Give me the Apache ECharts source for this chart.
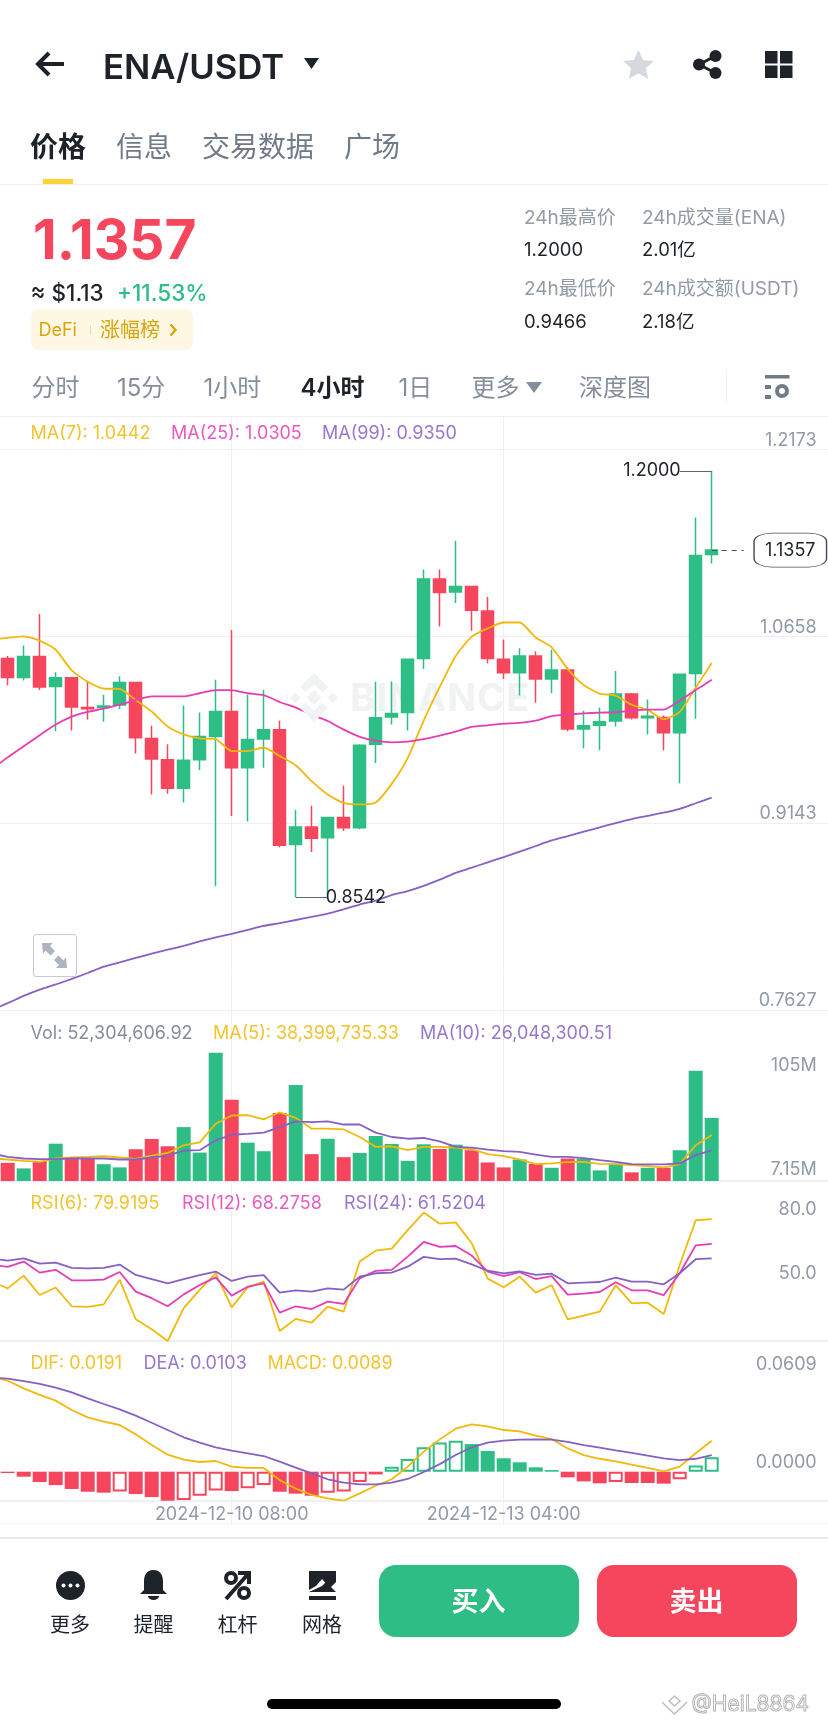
<!DOCTYPE html>
<html>
<head>
<meta charset="utf-8">
<style>
  html, body { margin: 0; background: #fff; }
  #page { position: relative; width: 828px; height: 1725px; overflow: hidden; font-family: Inter, "Noto Sans CJK SC", sans-serif; }
  #chart { position: absolute; left: 0; top: 0; width: 828px; height: 1725px; z-index: 1; }
  .t { position: absolute; white-space: nowrap; line-height: 1; z-index: 2; }
  .box { position: absolute; z-index: 0; }
  svg { position: absolute; z-index: 2; overflow: visible; }
</style>
<script src="https://cdn.jsdelivr.net/npm/echarts@6/dist/echarts.min.js"></script>
</head>
<body>
<div id="page"><div id="chart"></div></div>
<script>
// first entry sits just off the left edge, it only makes the lines run into the screen
const categories = [
  "12-07 20:00",
  "12-08 00:00", "12-08 04:00", "12-08 08:00", "12-08 12:00", "12-08 16:00", "12-08 20:00",
  "12-09 00:00", "12-09 04:00", "12-09 08:00", "12-09 12:00", "12-09 16:00", "12-09 20:00",
  "12-10 00:00", "12-10 04:00", "12-10 08:00", "12-10 12:00", "12-10 16:00", "12-10 20:00",
  "12-11 00:00", "12-11 04:00", "12-11 08:00", "12-11 12:00", "12-11 16:00", "12-11 20:00",
  "12-12 00:00", "12-12 04:00", "12-12 08:00", "12-12 12:00", "12-12 16:00", "12-12 20:00",
  "12-13 00:00", "12-13 04:00", "12-13 08:00", "12-13 12:00", "12-13 16:00", "12-13 20:00",
  "12-14 00:00", "12-14 04:00", "12-14 08:00", "12-14 12:00", "12-14 16:00", "12-14 20:00",
  "12-15 00:00", "12-15 04:00", "12-15 08:00",
];
// open, close, low, high
const candles = [
  [1.06, 1.048, 1.04, 1.07],
  [1.0478, 1.0324, 1.026, 1.0498], [1.0324, 1.0494, 1.0299, 1.0584], [1.0494, 1.0247, 1.0222, 1.0838],
  [1.025, 1.0321, 0.9888, 1.0366], [1.0321, 1.0084, 0.9894, 1.0321], [1.008, 1.0071, 0.9984, 1.0289],
  [1.008, 1.0093, 0.9965, 1.0183], [1.01, 1.0283, 1.0068, 1.0334], [1.0283, 0.9836, 0.9708, 1.0283],
  [0.983, 0.9663, 0.9374, 0.9933], [0.9657, 0.9426, 0.9381, 0.9782], [0.9426, 0.9653, 0.931, 1.0096],
  [0.9657, 0.9846, 0.9573, 1.0039], [0.9846, 1.0048, 0.863, 1.0305], [1.0048, 0.9592, 0.9201, 1.0709],
  [0.9592, 0.982, 0.9156, 1.0183], [0.9824, 0.9901, 0.9592, 1.0225], [0.9901, 0.8963, 0.8947, 0.9974],
  [0.897, 0.9111, 0.8542, 0.9252], [0.9111, 0.9021, 0.8909, 0.9284], [0.9024, 0.9188, 0.856, 0.9195],
  [0.9188, 0.9105, 0.9079, 0.9445], [0.9105, 0.9775, 0.9092, 0.9782], [0.9782, 0.9997, 0.9631, 1.0289],
  [1.0003, 1.0032, 0.9942, 1.0292], [1.0039, 1.0472, 0.9894, 1.0475], [1.0478, 1.1123, 1.0392, 1.12],
  [1.1123, 1.1014, 1.0738, 1.12], [1.1017, 1.1062, 1.0928, 1.1432], [1.1062, 1.087, 1.0703, 1.1066],
  [1.0864, 1.0478, 1.044, 1.0976], [1.0472, 1.0363, 1.0311, 1.0632], [1.0363, 1.0498, 1.0177, 1.0562],
  [1.0498, 1.0311, 1.0119, 1.0536], [1.0311, 1.0385, 1.0196, 1.0549], [1.0385, 0.9907, 0.9888, 1.0407],
  [0.9907, 0.9933, 0.975, 1.0055], [0.9936, 0.9965, 0.9734, 1.008], [0.9971, 1.0189, 0.9926, 1.0376],
  [1.0189, 0.9997, 0.9984, 1.0199], [0.9998, 1.001, 0.9862, 1.0145], [1.0, 0.9875, 0.9734, 1.0016],
  [0.9875, 1.035, 0.9467, 1.0356], [1.0356, 1.1313, 0.999, 1.1621], [1.1322, 1.1357, 1.1249, 1.2],
];
const ma7 = [1.0632, 1.0645, 1.0658, 1.0623, 1.0549, 1.0382, 1.0289, 1.0234, 1.0231, 1.0141, 1.0048, 0.9926, 0.9862, 0.983, 0.9824, 0.9727, 0.9727, 0.9756, 0.9686, 0.9612, 0.9483, 0.9374, 0.9307, 0.9294, 0.931, 0.9461, 0.967, 0.9974, 1.0247, 1.0498, 1.0655, 1.0722, 1.077, 1.077, 1.0648, 1.0568, 1.0392, 1.0263, 1.0193, 1.0177, 1.0103, 1.0061, 0.9984, 1.0045, 1.0241, 1.0442];
const ma25 = [0.958, 0.9676, 0.9766, 0.9856, 0.9942, 1.0007, 1.0045, 1.0071, 1.0103, 1.0141, 1.017, 1.017, 1.017, 1.0196, 1.0222, 1.0222, 1.0196, 1.018, 1.0125, 1.008, 1.0023, 0.9971, 0.9901, 0.9843, 0.9811, 0.9798, 0.9804, 0.9824, 0.9853, 0.9885, 0.9923, 0.9936, 0.9949, 0.9955, 0.9974, 1.001, 1.0023, 1.0032, 1.0039, 1.0042, 1.0055, 1.0064, 1.0064, 1.0135, 1.0222, 1.0305];
const ma99 = [0.7628, 0.7683, 0.7741, 0.7792, 0.7834, 0.7879, 0.7927, 0.7978, 0.8013, 0.8049, 0.8084, 0.8116, 0.8148, 0.8184, 0.8216, 0.8245, 0.8277, 0.8309, 0.8331, 0.8357, 0.8382, 0.8408, 0.8444, 0.8482, 0.8514, 0.8559, 0.8591, 0.8633, 0.8684, 0.8739, 0.8781, 0.8825, 0.8867, 0.8912, 0.8957, 0.9002, 0.9037, 0.9073, 0.9108, 0.9143, 0.9175, 0.9201, 0.9227, 0.9259, 0.9304, 0.935];
// volume in millions
const volumes = [20, 15.9, 11.4, 17.5, 31.4, 19.4, 19.4, 14.8, 12.2, 26.9, 35.2, 29.3, 44.8, 24.2, 105, 67, 32.2, 25.3, 56.3, 78.8, 22.9, 35.4, 20.5, 23.9, 37.6, 31.2, 17.5, 30.9, 27.1, 30.6, 26.1, 16.2, 12.2, 18.6, 15.1, 11.9, 19.4, 19.4, 9.8, 15.4, 8.2, 11.9, 11.9, 26.1, 90.3, 52.3];
const volMa5 = [19.4, 18.6, 17.5, 16.7, 19.4, 20.2, 20.7, 21.3, 20.2, 19.1, 21.8, 24, 30.1, 32.5, 47.5, 54.2, 54.4, 51, 56.8, 52.3, 43.5, 43.5, 42.9, 36.8, 28.8, 29.3, 26.1, 28.8, 28.8, 28.2, 26.9, 22.9, 21.3, 18.6, 14.8, 15.4, 16.4, 16.7, 15.1, 14.8, 14, 13.2, 12.2, 14.8, 30.1, 38.4];
const volMa10 = [23.4, 20.7, 19.4, 18.9, 18.9, 19.4, 19.4, 19.4, 18.6, 18.6, 20.2, 21.8, 25.8, 26.1, 34.1, 38.6, 39.4, 40.3, 44.8, 49.4, 48.8, 49.4, 46.9, 46.9, 40.3, 36.8, 35.4, 36, 33.3, 28.8, 28.2, 26.6, 25.3, 24.7, 22.6, 20.7, 20.7, 19.7, 18.1, 16.7, 14.8, 14.6, 14.6, 15.4, 22.1, 26.05];
const rsi6 = [50.6, 47.4, 53.4, 44.3, 47.8, 39, 38.7, 39.9, 51.4, 32.9, 28.2, 22.7, 38.1, 46.7, 54.5, 38.5, 47.9, 50.6, 27.4, 33.1, 31.3, 38.8, 36.5, 60, 65.1, 66.1, 74.8, 83, 77.8, 78.4, 68.6, 52, 47.9, 52.9, 45.4, 48.9, 32.9, 34.6, 36.5, 48.9, 40.4, 40.7, 35.4, 58.4, 79.4, 79.92];
const rsi12 = [58.4, 57.5, 60, 54.8, 56.1, 51.2, 51.2, 51.5, 55.1, 45.9, 42.8, 39, 44.6, 49, 52.6, 44, 48.2, 49.8, 36, 39, 37.7, 41.2, 40.1, 52.1, 55.6, 56.1, 62.3, 69.2, 66.9, 67.3, 62.8, 55.3, 53.2, 55, 51.8, 53.2, 44.5, 44.9, 45.7, 50.3, 46.5, 46.5, 44.2, 54.5, 67.6, 68.28];
const rsi24 = [61.5, 60.4, 61.5, 59, 59.5, 57, 56.8, 57, 58.6, 53.7, 51.8, 49.8, 51.8, 53.6, 55.3, 50.9, 52.9, 53.6, 45.4, 46.5, 45.9, 47.4, 46.8, 52.9, 54.5, 54.8, 57.6, 62.2, 61.1, 61.4, 58.7, 55.7, 54.5, 55.4, 53.7, 54.3, 49.8, 50.1, 50.4, 52.5, 50.6, 50.6, 49.3, 54.5, 61.1, 61.52];
const dif = [0.0588, 0.0563, 0.0516, 0.0475, 0.044, 0.0382, 0.0336, 0.031, 0.0289, 0.0231, 0.0165, 0.0105, 0.0074, 0.006, 0.0066, 0.0031, 0.0023, 0.0023, -0.0052, -0.0105, -0.0144, -0.0165, -0.018, -0.0134, -0.0087, -0.0047, 0.0031, 0.0124, 0.02, 0.0266, 0.0293, 0.0281, 0.0258, 0.025, 0.0223, 0.0202, 0.0144, 0.0103, 0.008, 0.0064, 0.0043, 0.0023, 0.0002, 0.0031, 0.0114, 0.0191];
const dea = [0.0582, 0.0576, 0.0561, 0.0543, 0.052, 0.0491, 0.0454, 0.0419, 0.0386, 0.0347, 0.0303, 0.0258, 0.0213, 0.018, 0.0151, 0.013, 0.0114, 0.0097, 0.0062, 0.0025, -0.001, -0.0047, -0.0068, -0.0078, -0.0078, -0.0068, -0.0045, -0.0002, 0.0047, 0.0103, 0.0151, 0.018, 0.0192, 0.0198, 0.02, 0.0198, 0.0184, 0.0165, 0.0149, 0.0132, 0.0116, 0.0099, 0.0083, 0.0072, 0.008, 0.0103];
const macd = [0, -0.0008, -0.0031, -0.0064, -0.0083, -0.0107, -0.0124, -0.013, -0.0122, -0.0138, -0.0157, -0.018, -0.0175, -0.0149, -0.0116, -0.012, -0.0103, -0.0083, -0.0124, -0.0136, -0.0149, -0.013, -0.0122, -0.0064, -0.0017, 0.0031, 0.0078, 0.0151, 0.018, 0.0192, 0.0171, 0.0128, 0.0083, 0.0058, 0.0027, 0.001, -0.0035, -0.006, -0.0072, -0.0064, -0.007, -0.007, -0.0074, -0.0047, 0.0039, 0.0089];
const macdHollow = [8, 12, 13, 14, 16, 17, 21, 22, 23, 25, 26, 27, 28, 29, 39, 43, 44, 45];
const priceTicks = [0.7627, 0.9143, 1.0658, 1.2173];
const volTicks = [7.15, 105];
const rsiTicks = [50, 80];
const macdTicks = [0, 0.0609];
const dateMarks = [15, 32];

const UP = "#2EBD85", DOWN = "#F6465D", YELLOW = "#F0B90B", PINK = "#E63DB2", PURPLE = "#8560C5";
const GRID = "#EEF0F2", AXIS = "#929AA5", DARK = "#1E2329";
const TICK_SIZE = 18;

const page = document.getElementById("page");
const slots = categories.concat(Array(7).fill(""));

// panels share one band width, the first band is off screen
const panel = (top, bottom) => ({
  left: -16.3, width: 848, top, height: bottom - top, outerBoundsMode: "none", containLabel: false,
});

const hiddenX = (gridIndex, lineWidth) => ({
  type: "category", gridIndex, data: slots,
  axisLine: { show: !!lineWidth, onZero: false, lineStyle: { color: GRID, width: lineWidth || 1 } },
  axisTick: { show: false }, axisLabel: { show: false }, splitLine: { show: false },
});

const valueY = (gridIndex, min, max, ticks, label) => ({
  type: "value", gridIndex, position: "right", min, max, scale: true,
  axisLine: { show: false }, axisTick: { show: false }, splitLine: { show: false },
  axisLabel: {
    customValues: ticks, inside: true, margin: 15, verticalAlign: "bottom",
    color: AXIS, fontSize: TICK_SIZE, fontFamily: "Inter", ...label,
  },
});

const line = (name, data, color, xAxisIndex, smooth) => ({
  name, type: "line", data, xAxisIndex, yAxisIndex: xAxisIndex, symbol: "none", silent: true, smooth: smooth || false,
  lineStyle: { color, width: 1.8 }, z: 3,
});

const note = (text, distance) => ({ show: true, position: "end", formatter: text, color: DARK, fontSize: TICK_SIZE, fontFamily: "Inter", distance });

const option = {
  animation: false,
  backgroundColor: "transparent",
  grid: [panel(449.5, 1010), panel(1052.7, 1181), panel(1190, 1341), panel(1373.3, 1500.7), panel(416, 1523)],
  xAxis: [
    hiddenX(0, 1),
    hiddenX(1, 2),
    hiddenX(2, 2),
    {
      ...hiddenX(3, 2),
      axisLabel: {
        show: true, interval: (i) => dateMarks.includes(i), margin: 5, hideOverlap: false,
        color: AXIS, fontSize: TICK_SIZE, fontFamily: "Inter", formatter: (v) => "2024-" + v,
      },
    },
    {
      ...hiddenX(4, 0),
      axisTick: { show: false, alignWithLabel: true },
      splitLine: { show: true, alignWithLabel: true, interval: (i) => dateMarks.includes(i), lineStyle: { color: GRID, width: 1 } },
    },
  ],
  yAxis: [
    valueY(0, 0.7627, 1.2173, priceTicks, { formatter: (v) => v.toFixed(4) }),
    valueY(1, 1.2, 105, volTicks, {
      verticalAlign: "middle",
      formatter: (v) => (v === 105 ? "{hi|105M}" : "{lo|7.15M}"),
      rich: {
        hi: { color: AXIS, fontSize: TICK_SIZE, fontFamily: "Inter", padding: [26, 0, 0, 0] },
        lo: { color: AXIS, fontSize: TICK_SIZE, fontFamily: "Inter", padding: [0, 0, 8, 0] },
      },
    }),
    valueY(2, 22.7, 93.6, rsiTicks, { formatter: (v) => v.toFixed(1) }),
    valueY(3, -0.01796, 0.0609, macdTicks, { formatter: (v) => v.toFixed(4) }),
    { type: "value", gridIndex: 4, show: false },
  ],
  series: [
    {
      name: "K", type: "candlestick", data: candles, xAxisIndex: 0, yAxisIndex: 0, barWidth: 13, silent: true, z: 2,
      itemStyle: { color: UP, color0: DOWN, borderColor: UP, borderColor0: DOWN, borderWidth: 1.5 },
      markLine: {
        silent: true, symbol: "none", animation: false,
        data: [
          [
            { coord: [45, 1.2], lineStyle: { color: "#5E6673", width: 1, type: "solid" } },
            { coord: [43, 1.2], label: note("1.2000", -1) },
          ],
          [
            { coord: [19, 0.8542], lineStyle: { color: "#5E6673", width: 1, type: "solid" } },
            { coord: [21, 0.8542], label: note("0.8542", -2) },
          ],
          [
            { coord: [45, 1.1357], lineStyle: { color: "#474D57", width: 1, type: [5, 5] } },
            { coord: [47, 1.1357], label: { show: false } },
          ],
        ],
      },
      markPoint: {
        silent: true, animation: false,
        data: [{
          coord: [50, 1.1357], symbol: "roundRect", symbolSize: [72.5, 34], symbolOffset: [-1.4, 0],
          itemStyle: { color: "#fff", borderColor: "#474D57", borderWidth: 1 },
          label: { show: true, position: "inside", formatter: "1.1357", color: DARK, fontSize: TICK_SIZE, fontFamily: "Inter" },
        }],
      },
    },
    line("MA(7)", ma7, YELLOW, 0, 0.2),
    line("MA(25)", ma25, PINK, 0, 0.2),
    {
      ...line("MA(99)", ma99, PURPLE, 0, 0.2),
      // price rules, precision defaults to 2 and would move them
      markLine: {
        silent: true, symbol: "none", animation: false, z: 1, precision: 4,
        lineStyle: { color: GRID, width: 1, type: "solid" }, label: { show: false },
        data: priceTicks.map((v) => ({ yAxis: v })),
      },
    },
    {
      name: "Vol", type: "bar", xAxisIndex: 1, yAxisIndex: 1, barWidth: 14, silent: true,
      data: volumes.map((v, i) => ({ value: v, itemStyle: { color: candles[i][1] >= candles[i][0] ? UP : DOWN } })),
    },
    line("MA(5)", volMa5, YELLOW, 1),
    line("MA(10)", volMa10, PURPLE, 1),
    line("RSI(6)", rsi6, YELLOW, 2),
    line("RSI(12)", rsi12, PINK, 2),
    line("RSI(24)", rsi24, PURPLE, 2),
    {
      name: "MACD", type: "bar", xAxisIndex: 3, yAxisIndex: 3, barWidth: 14, silent: true,
      data: macd.map((v, i) => {
        const color = v >= 0 ? UP : DOWN;
        return {
          value: v,
          itemStyle: macdHollow.includes(i) ? { color: "#fff", borderColor: color, borderWidth: 2 } : { color },
        };
      }),
    },
    line("DIF", dif, YELLOW, 3),
    line("DEA", dea, PURPLE, 3),
  ],
};

echarts.init(document.getElementById("chart")).setOption(option);

// page chrome around the chart
function text(s, x, y, size, color, extra) {
  const el = document.createElement("div");
  el.className = "t";
  el.textContent = s;
  el.style.cssText = `left:${x}px;top:${y}px;font-size:${size}px;color:${color};transform:translateY(-50%);` + (extra || "");
  page.appendChild(el);
  return el;
}
function box(x, y, w, h, css) {
  const el = document.createElement("div");
  el.className = "box";
  el.style.cssText = `left:${x}px;top:${y}px;width:${w}px;height:${h}px;` + css;
  page.appendChild(el);
  return el;
}
function svg(x, y, w, h, inner, vb) {
  const wrap = document.createElement("div");
  wrap.innerHTML = `<svg style="left:${x}px;top:${y}px" width="${w}" height="${h}" viewBox="${vb || `0 0 ${w} ${h}`}">${inner}</svg>`;
  page.appendChild(wrap.firstChild);
}

const GRAY = "#848E9C", HEAD = "#707A8A";

// header
svg(34, 50, 32, 28, `<path d="M30 14H4M15 3L4 14l11 11" fill="none" stroke="${DARK}" stroke-width="4"/>`);
text("ENA/USDT", 103, 66, 34.7, DARK, "font-weight:600;");
svg(304, 58, 15, 11, `<path d="M0 0h15L7.5 11z" fill="${DARK}"/>`);
svg(623, 50, 31, 29, `<path d="M15.5 0l4.6 10 10.9 1-8.2 7.2 2.4 10.8-9.7-5.7-9.7 5.7 2.4-10.8L0 11l10.9-1z" fill="#D5D8DD"/>`);
svg(693, 50, 29, 29, `<g fill="${DARK}"><circle cx="6" cy="14.5" r="6"/><circle cx="22.5" cy="6" r="6"/><circle cx="22.5" cy="23" r="6"/></g><path d="M22.5 6L6 14.5 22.5 23" fill="none" stroke="${DARK}" stroke-width="3"/>`);
svg(764.5, 51, 28, 27, `<g fill="${DARK}"><rect width="12.5" height="12.5"/><rect x="15" width="12.5" height="12.5"/><rect y="14.5" width="12.5" height="12.5"/><rect x="15" y="14.5" width="12.5" height="12.5"/></g>`);

// tabs
text("价格", 30, 147, 28, DARK, "font-weight:600;");
text("信息", 116, 147, 28, HEAD);
text("交易数据", 202, 147, 28, HEAD);
text("广场", 344, 147, 28, HEAD);
box(43, 179, 29.5, 5, "background:#FCD535;");
box(0, 184, 828, 1, `background:${GRID};`);

// price block
text("1.1357", 33, 239, 55, DOWN, "font-weight:700;");
text("≈ $1.13", 30.5, 293, 22.5, DARK, "font-weight:500;");
text("+11.53%", 117, 293, 22.5, UP, "font-weight:500;");
box(30.5, 309, 162, 41, "background:#FDF7E3;border-radius:8px;");
text("DeFi", 38.5, 330, 18, "#D9A50B");
box(89.5, 325, 1, 10, "background:#EADFB0;");
text("涨幅榜", 100, 330, 20, "#D9A50B");
svg(169, 323, 8, 14, `<path d="M1.5 1.5L6.5 7l-5 5.5" fill="none" stroke="#D9A50B" stroke-width="2.4"/>`);

// 24h stats
text("24h最高价", 524, 217, 19, AXIS);
text("24h成交量(ENA)", 642, 217, 19, AXIS);
text("1.2000", 524, 249, 18.5, DARK);
text("2.01亿", 642, 249, 18.5, DARK);
text("24h最低价", 524, 288, 19, AXIS);
text("24h成交额(USDT)", 642, 288, 19, AXIS);
text("0.9466", 524, 321, 18.5, DARK);
text("2.18亿", 642, 321, 18.5, DARK);

// interval bar
text("分时", 31.5, 388, 24, GRAY);
text("15分", 117, 388, 24, GRAY);
text("1小时", 203.5, 388, 24, GRAY);
text("4小时", 300.5, 388, 24, DARK, "font-weight:600;");
text("1日", 398.5, 388, 24, GRAY);
text("更多", 471.5, 388, 24, GRAY);
svg(526, 382, 16, 11, `<path d="M0 0h16L8 11z" fill="${GRAY}"/>`);
text("深度图", 579, 388, 24, GRAY);
box(725.5, 370, 1, 32, `background:${GRID};`);
svg(764.5, 375, 25, 24, `<g fill="${HEAD}"><rect width="24.5" height="3.5"/><rect y="10" width="6" height="4"/><rect y="20" width="6" height="4"/><circle cx="17" cy="16" r="7"/></g><circle cx="17" cy="16" r="3" fill="#fff"/>`);

// panel rules
box(0, 416, 828, 1, `background:${GRID};`);
box(0, 1523, 828, 1, `background:#F5F5F5;`);
box(0, 1537, 828, 1.5, "background:#E6E8EA;");

// faint watermark under the candles
svg(290, 673, 48, 49, `<g fill="#F1F2F4"><path d="M24 0l14 14-5.5 5.5L24 11l-8.5 8.5L10 14z"/><path d="M24 49L10 35l5.5-5.5L24 38l8.5-8.5L38 35z"/><rect x="1.5" y="21" width="7.5" height="7.5" transform="rotate(45 5.2 24.7)"/><rect x="39" y="21" width="7.5" height="7.5" transform="rotate(45 42.7 24.7)"/><rect x="18.7" y="19.2" width="10.6" height="10.6" transform="rotate(45 24 24.5)"/></g>`);
const mark = text("BINANCE", 350, 697, 38, "#F1F2F4", "font-weight:700;letter-spacing:1px;");
mark.style.zIndex = 0;

// indicator readouts
const readouts = [
  ["MA(7): 1.0442", 30.5, 432.5, YELLOW], ["MA(25): 1.0305", 171, 432.5, PINK], ["MA(99): 0.9350", 322, 432.5, PURPLE],
  ["Vol: 52,304,606.92", 30.5, 1033, HEAD], ["MA(5): 38,399,735.33", 213, 1033, YELLOW], ["MA(10): 26,048,300.51", 420, 1033, PURPLE],
  ["RSI(6): 79.9195", 30.5, 1203, YELLOW], ["RSI(12): 68.2758", 182, 1203, PINK], ["RSI(24): 61.5204", 344, 1203, PURPLE],
  ["DIF: 0.0191", 30.5, 1363, YELLOW], ["DEA: 0.0103", 143.5, 1363, PURPLE], ["MACD: 0.0089", 267.5, 1363, YELLOW],
];
for (const [s, x, y, c] of readouts) text(s, x, y, 18, c, "opacity:.85;");

// expand button
box(32.5, 934, 42, 41, "border:1px solid #C7CBD1;border-radius:3px;background:#fff;z-index:2;");
svg(41.5, 942.5, 25, 25, `<g fill="#AEB4BC"><path d="M0 0h11L8 3l5 5-4.5 4.5-5-5L1 11z"/><path d="M25 25H14l3-3-5-5 4.5-4.5 5 5L24 14z"/></g>`);

// bottom toolbar
svg(55.5, 1570.5, 29, 29, `<circle cx="14.5" cy="14.5" r="14.5" fill="${DARK}"/><g fill="#fff"><circle cx="7.5" cy="14.5" r="2"/><circle cx="14.5" cy="14.5" r="2"/><circle cx="21.5" cy="14.5" r="2"/></g>`);
svg(140, 1570, 27, 30, `<path d="M13.5 0C6 0 4 6 4 12v8l-4 4h27l-4-4v-8C23 6 21 0 13.5 0z" fill="${DARK}"/><path d="M8 26h11a5.5 4 0 0 1-11 0z" fill="${DARK}"/>`);
svg(224, 1571, 27, 29, `<g fill="none" stroke="${DARK}" stroke-width="4"><circle cx="7" cy="7" r="5"/><circle cx="20" cy="22" r="5"/><path d="M2 28L25 2M14 2h11v11"/></g>`);
svg(308.5, 1571, 27, 29, `<path d="M0 0h27v11L21 17 13 8 7 15 0 19z" fill="${DARK}"/><path d="M0 25h27v4H0z" fill="${DARK}"/><g fill="${DARK}"><path d="M0 21h27L17 11 13 15z"/></g>`);
const tools = [["更多", 70], ["提醒", 153.5], ["杠杆", 237.5], ["网格", 322]];
for (const [s, x] of tools) text(s, x, 1625, 20, DARK, "transform:translate(-50%,-50%);");
box(378.5, 1565, 200.5, 71.5, `background:${UP};border-radius:17px;z-index:2;`);
box(596.5, 1565, 200.5, 71.5, `background:${DOWN};border-radius:17px;z-index:2;`);
text("买入", 478.5, 1601, 27, "#fff", "font-weight:600;transform:translate(-50%,-50%);z-index:3;");
text("卖出", 696.5, 1601, 27, "#fff", "font-weight:600;transform:translate(-50%,-50%);z-index:3;");
box(266.5, 1699, 294.5, 10, "background:#000;border-radius:5px;z-index:2;");

// reposter mark in the corner
svg(660, 1694, 29, 21, `<path d="M14.5 2L20 7l-5.5 5L9 7zM2 8l4 4 8.5 8 8.5-8 4-4" fill="#fff" stroke="#BDBDBD" stroke-width="1.5"/>`);
text("@HeiL8864", 691.5, 1703, 21, "#fff", "-webkit-text-stroke:1px #B5B5B5;");
</script>
</body>
</html>
